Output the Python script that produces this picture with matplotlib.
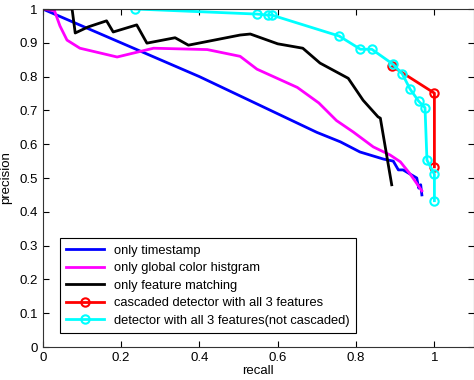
import numpy as np
import matplotlib
matplotlib.use("Agg")
from matplotlib import pyplot as plt
from matplotlib.ticker import FuncFormatter

plt.rcParams['font.family'] = ['Liberation Sans', 'DejaVu Sans']

# only timestamp
timestamp_recall = [0.0, 0.1, 0.2, 0.3, 0.4, 0.5, 0.6, 0.7, 0.76, 0.81, 0.87, 0.895,
                    0.908, 0.92, 0.955, 0.96, 0.965, 0.968]
timestamp_precision = [1.0, 0.95, 0.9, 0.85, 0.8, 0.745, 0.69, 0.635, 0.607, 0.577, 0.556, 0.55,
                       0.524, 0.524, 0.50, 0.47, 0.48, 0.45]

# only global color histogram
color_recall = [0.0, 0.03, 0.044, 0.062, 0.095, 0.19, 0.283, 0.42, 0.504, 0.547, 0.65,
                0.705, 0.75, 0.793, 0.844, 0.887, 0.913, 0.938, 0.968]
color_precision = [1.0, 0.995, 0.95, 0.908, 0.884, 0.858, 0.884, 0.88, 0.86, 0.822, 0.768,
                   0.722, 0.67, 0.636, 0.592, 0.568, 0.548, 0.512, 0.462]

# only feature matching
feature_recall = [0.0, 0.075, 0.083, 0.116, 0.163, 0.18, 0.24, 0.266, 0.338, 0.372, 0.504,
                  0.53, 0.6, 0.664, 0.708, 0.78, 0.818, 0.856, 0.862, 0.891]
feature_precision = [1.0, 1.0, 0.929, 0.947, 0.965, 0.932, 0.953, 0.899, 0.915, 0.893, 0.923,
                     0.926, 0.897, 0.884, 0.84, 0.795, 0.73, 0.681, 0.677, 0.48]

# cascaded detector
cascaded_recall = [0.893, 1.0, 1.0]
cascaded_precision = [0.83, 0.751, 0.533]

# detector with all 3 features (not cascaded)
combined_recall = [0.236, 0.547, 0.575, 0.585, 0.757, 0.811, 0.84, 0.895, 0.918, 0.938,
                   0.96, 0.976, 0.981, 1.0, 1.0]
combined_precision = [1.0, 0.985, 0.982, 0.982, 0.92, 0.881, 0.881, 0.836, 0.808, 0.763,
                      0.727, 0.708, 0.553, 0.511, 0.433]

fig = plt.figure(figsize=(4.74, 3.80), dpi=100)
ax = fig.add_axes([0.0901, 0.0868, 0.909, 0.8895])

ax.plot(timestamp_recall, timestamp_precision, color='#0000ff', lw=2, label='only timestamp')
ax.plot(color_recall, color_precision, color='#ff00ff', lw=2, label='only global color histgram')
ax.plot(feature_recall, feature_precision, color='black', lw=2, label='only feature matching')
ax.plot(cascaded_recall, cascaded_precision, color='#ff0000', lw=2, marker='o', ms=6,
        mfc='none', mew=1.5, label='cascaded detector with all 3 features')
ax.plot(combined_recall, combined_precision, color='#00ffff', lw=2, marker='o', ms=6,
        mfc='none', mew=1.5, label='detector with all 3 features(not cascaded)')

ax.set_xlim(0, 1.1)
ax.set_ylim(0, 1)
ax.set_xticks(np.arange(0, 1.01, 0.2))
ax.set_yticks(np.arange(0, 1.01, 0.1))
fmt = FuncFormatter(lambda v, pos: '%g' % round(v, 2))
ax.xaxis.set_major_formatter(fmt)
ax.yaxis.set_major_formatter(fmt)
ax.tick_params(direction='in', top=True, right=True, labelsize=9.5, length=4, width=0.8)
for s in ax.spines.values():
    s.set_color('#333333')

ax.set_xlabel('recall', fontsize=9.5, labelpad=1)
ax.set_ylabel('precision', fontsize=9.5, labelpad=5)

leg = ax.legend(loc='lower left', bbox_to_anchor=(0.04, 0.041), borderaxespad=0,
                fontsize=9.3, fancybox=False, framealpha=1, edgecolor='black',
                handlelength=2.9, labelspacing=0.42, borderpad=0.5)
leg.get_frame().set_linewidth(0.8)

fig.savefig('out.png', dpi=100)
